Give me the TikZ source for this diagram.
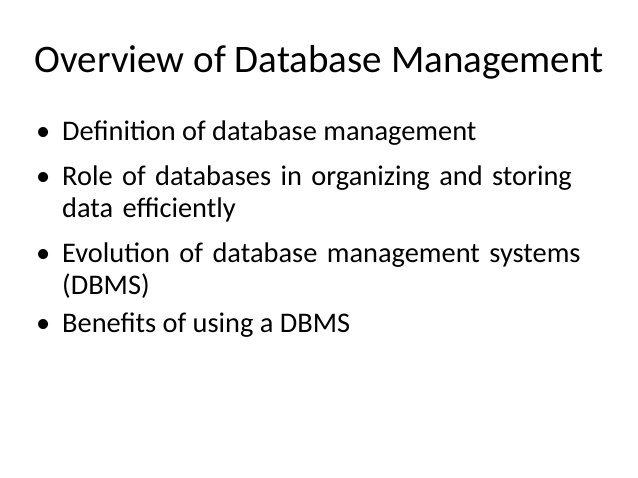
\documentclass[tikz,border=0pt]{standalone}
\usepackage{fontspec}
\setmainfont{Carlito}
\begin{document}
\begin{tikzpicture}[x=1pt,y=1pt,
  body/.style={anchor=base west,inner sep=0pt,font=\fontsize{28.4}{32}\selectfont,align=left},
  bul/.style={anchor=base west,inner sep=0pt,font=\fontsize{28.4}{32}\selectfont}]
\useasboundingbox[fill=white] (0,0) rectangle (638,-478);
\node[anchor=base,inner sep=0pt,font=\fontsize{39}{44}\selectfont] (title) at (319,-73) {Overview of Database Management};
\node[bul] (b1) at (36,-141) {•};
\node[body] (t1) at (62,-141) {Definition of database management};
\node[bul] (b2) at (36,-186) {•};
\node[body,text width=560] (t2) at (62,-186) {Role of databases in organizing and storing\\data efficiently};
\node[bul] (b3) at (36,-263) {•};
\node[body,text width=560] (t3) at (62,-263) {Evolution of database management systems\\(DBMS)};
\node[bul] (b4) at (36,-333) {•};
\node[body] (t4) at (62,-333) {Benefits of using a DBMS};
\end{tikzpicture}
\end{document}
